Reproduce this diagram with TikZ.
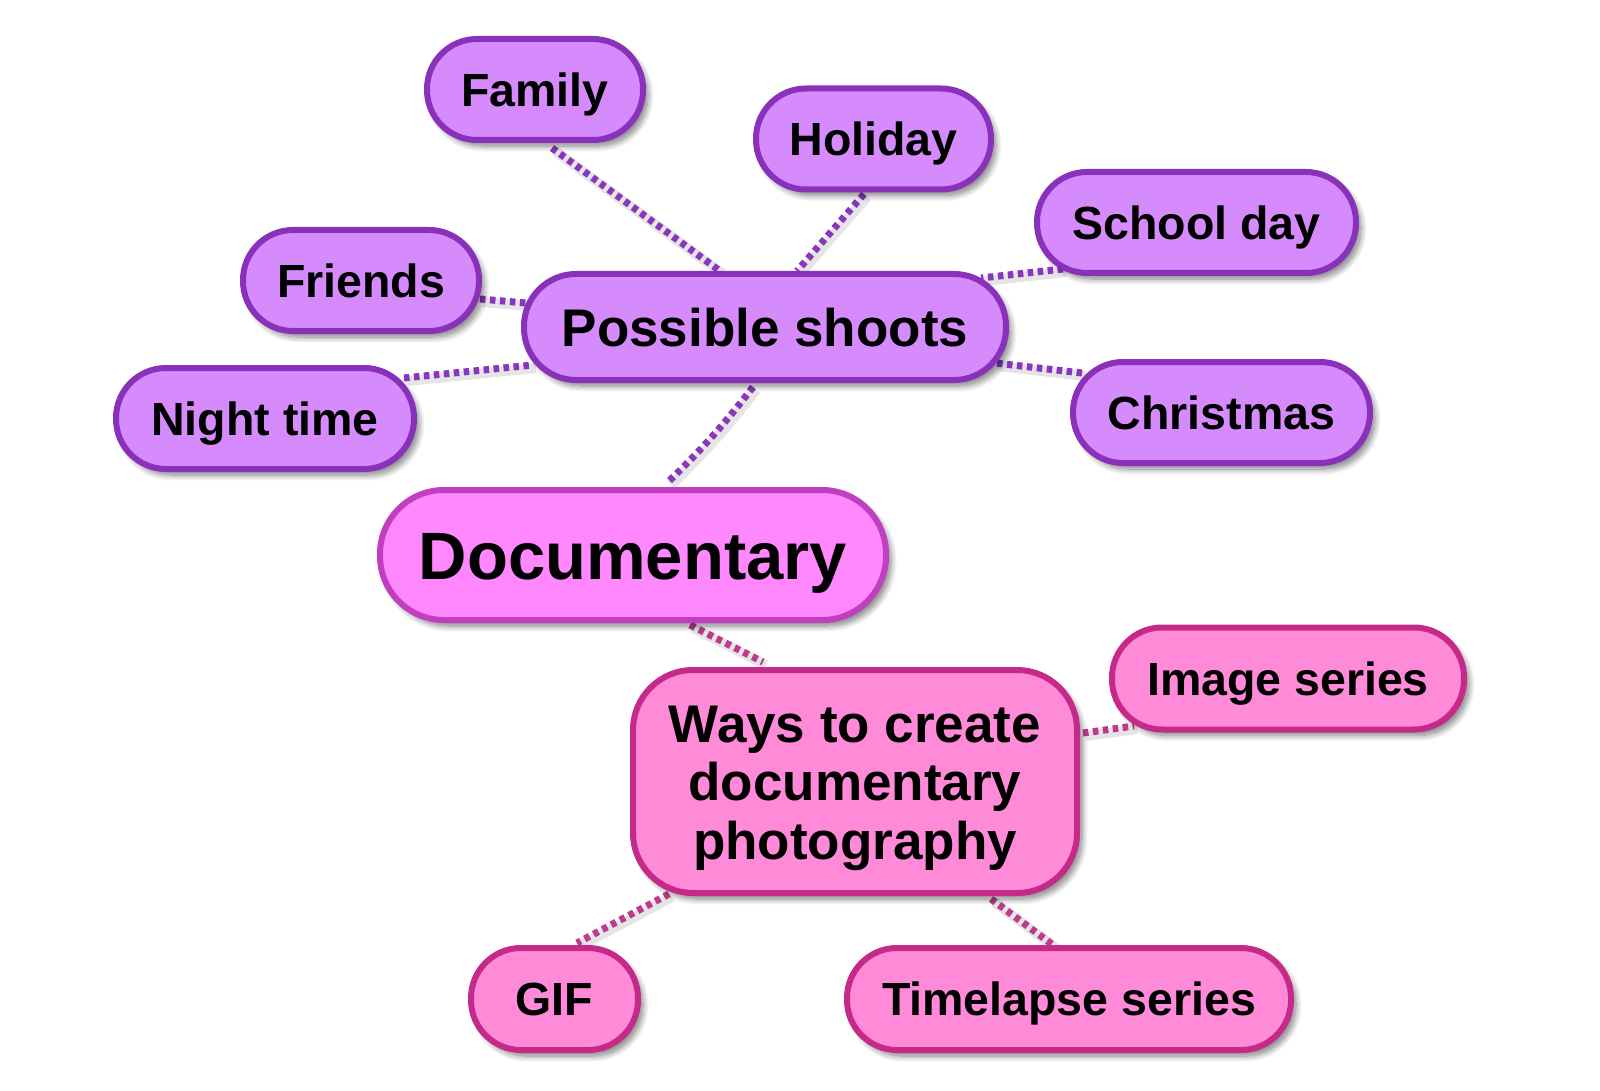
\documentclass[tikz,border=0pt]{standalone}
\usepackage{fontspec}
\setmainfont{Liberation Sans}
\usetikzlibrary{shadows.blur,calc}
\pgfdeclarelayer{bg}
\pgfdeclarelayer{paper}
\pgfsetlayers{paper,bg,main}
\definecolor{pfill}{HTML}{D68BFC}
\definecolor{pline}{HTML}{8A31BC}
\definecolor{dfill}{HTML}{FF88FF}
\definecolor{dline}{HTML}{C13EC1}
\definecolor{wfill}{HTML}{FF8AD8}
\definecolor{wline}{HTML}{C52A8A}
\definecolor{pcon}{HTML}{8A35BE}
\definecolor{wcon}{HTML}{BE3A8E}
\begin{document}
\begin{tikzpicture}[x=1pt,y=-1pt,
  nshadow/.style={blur shadow={shadow xshift=5pt, shadow yshift=-6pt, shadow blur radius=6pt, shadow blur steps=10, shadow opacity=50}},
  basebox/.style={line width=6pt, inner sep=0pt, text depth=0pt, nshadow},
  leaf/.style={basebox, draw=pline, fill=pfill, rounded corners=50pt, minimum height=101pt, text height=33.3pt, font=\bfseries\fontsize{46.5}{52}\selectfont},
  pleaf/.style={basebox, draw=wline, fill=wfill, rounded corners=50pt, minimum height=102pt, text height=33.3pt, font=\bfseries\fontsize{46.5}{52}\selectfont},
  hub/.style={basebox, draw=pline, fill=pfill, rounded corners=52pt, minimum height=106pt, text height=38pt, font=\bfseries\fontsize{53}{59}\selectfont},
  root/.style={basebox, draw=dline, fill=dfill, rounded corners=64pt, minimum height=130pt, text height=48pt, font=\bfseries\fontsize{67}{75}\selectfont},
  wayshub/.style={basebox, draw=wline, fill=wfill, rounded corners=60pt, minimum height=223pt, text height=155pt, align=center, font=\bfseries\fontsize{53}{58.5}\selectfont},
  conshadow/.style={preaction={draw=black, opacity=0.10, line width=10pt, solid, transform canvas={shift={(3pt,-3pt)}}}},
  pconn/.style={draw=pcon, line width=7pt, dash pattern=on 5.5pt off 4.5pt, conshadow},
  wconn/.style={draw=wcon, line width=7pt, dash pattern=on 5.5pt off 4.5pt, conshadow}
]
\useasboundingbox (0,0) rectangle (1600,1091);
\begin{pgfonlayer}{paper}
\fill[white] (0,0) rectangle (1600,1091);
\end{pgfonlayer}
% primer outside the page so that the first soft shadow of the layer renders correctly
\path[nshadow, fill=white] (-400,-400) rectangle (-390,-390);

\node[leaf, minimum width=216pt] (fam) at (535,89.5) {Family};
\node[leaf, minimum width=235pt] (hol) at (873.5,139) {Holiday};
\node[leaf, minimum width=319pt] (sch) at (1196.5,222.5) {School day};
\node[leaf, minimum width=236pt] (fri) at (361,280.5) {Friends};
\node[hub, minimum width=482pt] (ps) at (765,327) {Possible shoots};
\node[leaf, minimum width=298pt] (nt) at (265,418.5) {Night time};
\node[leaf, minimum width=297pt] (chr) at (1221.5,412.5) {Christmas};
\node[root, minimum width=506pt] (doc) at (633,555) {Documentary};
\node[wayshub, minimum width=444pt] (ways) at (855,781.5) {Ways to create\\documentary\\photography};
\node[pleaf, minimum width=352pt] (img) at (1288,678.5) {Image series};
\node[pleaf, minimum width=167pt] (gif) at (554.5,999) {GIF};
\node[pleaf, minimum width=444pt] (tl) at (1069,999) {Timelapse series};

\begin{pgfonlayer}{bg}
\draw[pconn] ([shift={(17,58.5)}]fam.center) -- ([shift={(-45,-56)}]ps.center);
\draw[pconn] ([shift={(-9.5,55)}]hol.center) -- ([shift={(32,-56)}]ps.center);
\draw[pconn] ([shift={(-133.5,46.5)}]sch.center) -- ([shift={(216,-49)}]ps.center);
\draw[pconn] ([shift={(119,18.5)}]fri.center) -- ([shift={(-239,-24)}]ps.center);
\draw[pconn] ([shift={(139,-40.5)}]nt.center) -- ([shift={(-232,38)}]ps.center);
\draw[pconn] ([shift={(-139.5,-39.5)}]chr.center) -- ([shift={(230,36)}]ps.center);
\draw[pconn] ([shift={(-12,60)}]ps.center) to[bend left=4] ([shift={(35,-73)}]doc.center);
\draw[wconn] ([shift={(57,70)}]doc.center) -- ([shift={(-92,-119.5)}]ways.center);
\draw[wconn] ([shift={(228,-48.5)}]ways.center) -- ([shift={(-154,47.5)}]img.center);
\draw[wconn] ([shift={(-186,112.5)}]ways.center) -- ([shift={(22.5,-56)}]gif.center);
\draw[wconn] ([shift={(136,117.5)}]ways.center) -- ([shift={(-16,-54)}]tl.center);
\end{pgfonlayer}
\end{tikzpicture}
\end{document}
